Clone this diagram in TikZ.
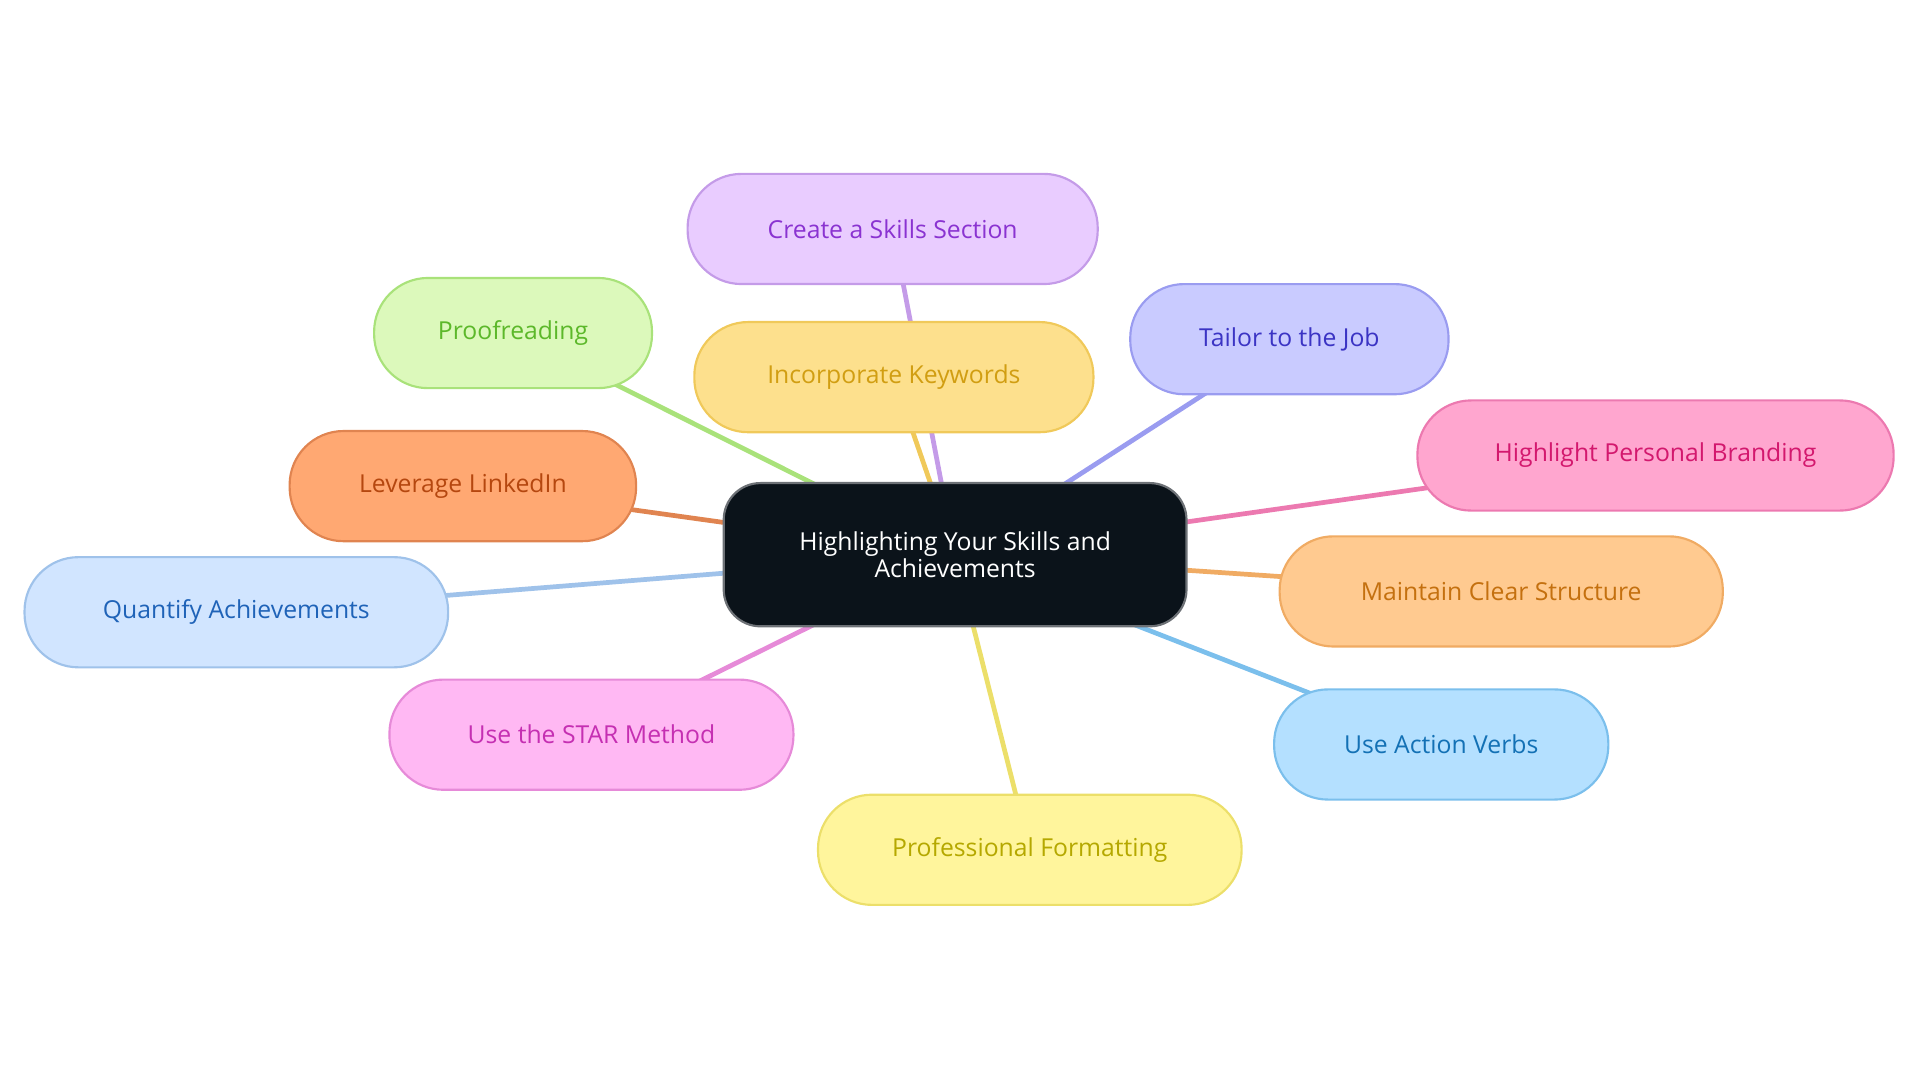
\documentclass[tikz,border=0pt]{standalone}
\usepackage{fontspec}
\setmainfont{Open Sans}
\usetikzlibrary{backgrounds}
\definecolor{k}{HTML}{0B131A}
\definecolor{f1}{HTML}{E9CCFF}\definecolor{b1}{HTML}{C49BE8}\definecolor{t1}{HTML}{8A33D1}
\definecolor{f2}{HTML}{DCF9BB}\definecolor{b2}{HTML}{A9E27A}\definecolor{t2}{HTML}{5CB82A}
\definecolor{f3}{HTML}{FDE08D}\definecolor{b3}{HTML}{F0C95A}\definecolor{t3}{HTML}{D19E12}
\definecolor{f4}{HTML}{C9CBFF}\definecolor{b4}{HTML}{9A9CF0}\definecolor{t4}{HTML}{3B34C4}
\definecolor{f5}{HTML}{FFA6CF}\definecolor{b5}{HTML}{EC79B0}\definecolor{t5}{HTML}{D3186E}
\definecolor{f6}{HTML}{FFA872}\definecolor{b6}{HTML}{E08450}\definecolor{t6}{HTML}{B5470F}
\definecolor{f7}{HTML}{FFCA90}\definecolor{b7}{HTML}{F0AB63}\definecolor{t7}{HTML}{C4700F}
\definecolor{f8}{HTML}{D1E5FF}\definecolor{b8}{HTML}{9FC2EA}\definecolor{t8}{HTML}{1F63B8}
\definecolor{f9}{HTML}{FFB8F3}\definecolor{b9}{HTML}{E68AD8}\definecolor{t9}{HTML}{C52FB2}
\definecolor{f10}{HTML}{B4E0FF}\definecolor{b10}{HTML}{7BBFEC}\definecolor{t10}{HTML}{1371B5}
\definecolor{f11}{HTML}{FFF59C}\definecolor{b11}{HTML}{ECDF6A}\definecolor{t11}{HTML}{B5A800}
\begin{document}
\begin{tikzpicture}[x=0.02cm,y=-0.02cm,
 leaf/.style={draw=b#1,fill=f#1,text=t#1,line width=1pt,rounded corners=0.88cm,minimum height=1.8cm,align=center,font=\fontsize{11.5}{14}\selectfont},
 edge/.style={line width=2.2pt,draw=b#1}]
\useasboundingbox (0,0) rectangle (1568,884);
\node[draw=k!60,fill=k,text=white,line width=1pt,rounded corners=0.6cm,minimum width=7.56cm,minimum height=2.34cm,align=center,font=\fontsize{11.5}{12.5}\selectfont] (c) at (780,453) {Highlighting Your Skills and\\Achievements};
\node[leaf=1,minimum width=6.7cm] (n1) at (729,187) {Create a Skills Section};
\node[leaf=2,minimum width=4.54cm] (n2) at (419,272) {Proofreading};
\node[leaf=3,minimum width=6.52cm] (n3) at (730,308) {Incorporate Keywords};
\node[leaf=4,minimum width=5.2cm] (n4) at (1053,277) {Tailor to the Job};
\node[leaf=5,minimum width=7.78cm] (n5) at (1352,372) {Highlight Personal Branding};
\node[leaf=6,minimum width=5.66cm] (n6) at (378,397) {Leverage LinkedIn};
\node[leaf=7,minimum width=7.24cm] (n7) at (1226,483) {Maintain Clear Structure};
\node[leaf=8,minimum width=6.92cm] (n8) at (193,500) {Quantify Achievements};
\node[leaf=9,minimum width=6.6cm] (n9) at (483,600) {Use the STAR Method};
\node[leaf=10,minimum width=5.46cm] (n10) at (1177,608) {Use Action Verbs};
\node[leaf=11,minimum width=6.92cm] (n11) at (841,694) {Professional Formatting};
\begin{pgfonlayer}{background}
\foreach \i in {1,...,11} \draw[edge=\i] (c.center) -- (n\i.center);
\end{pgfonlayer}
\end{tikzpicture}
\end{document}
